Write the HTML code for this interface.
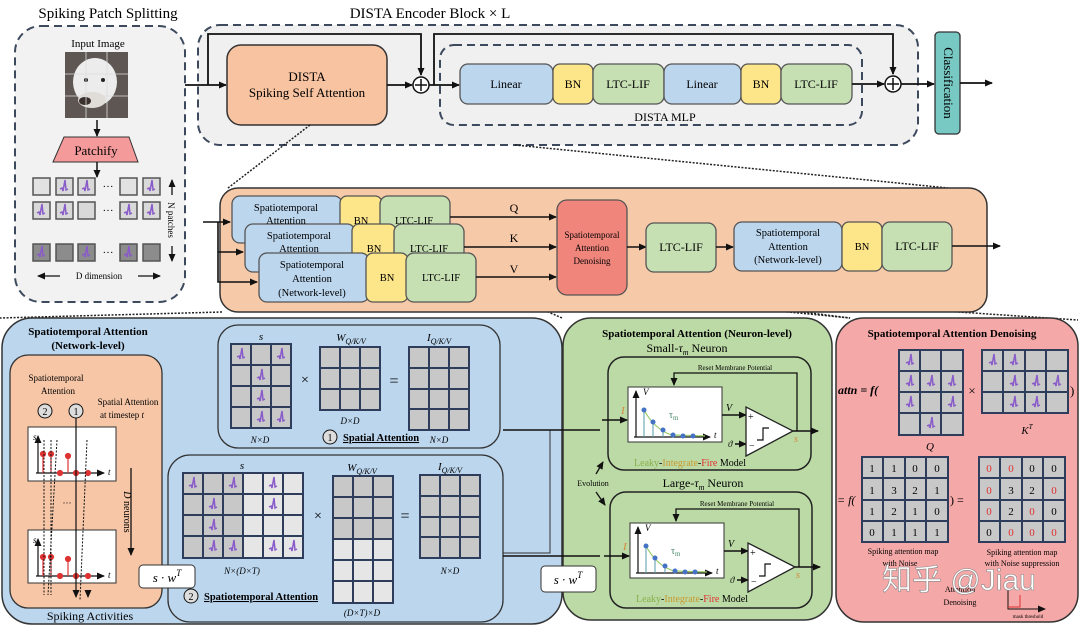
<!DOCTYPE html>
<html><head><meta charset="utf-8"><style>
html,body{margin:0;padding:0;background:#fff;width:1080px;height:626px;overflow:hidden}
svg{display:block;font-family:"Liberation Serif","Noto Serif CJK SC",serif}
</style></head><body>
<svg width="1080" height="626" viewBox="0 0 1080 626" xmlns="http://www.w3.org/2000/svg">
<defs>
<marker id="a" markerWidth="8" markerHeight="8" refX="7" refY="4" orient="auto" markerUnits="userSpaceOnUse"><path d="M0,0.5 L8,4 L0,7.5z" fill="#111"/></marker>
<symbol id="sp" overflow="visible"><path d="M-4,3 L-2,2 L-1,5 L1,-6 L2,4 L4,3" fill="none" stroke="#8a5cc9" stroke-width="1.5"/></symbol>
</defs>

<!-- ===== TOP ===== -->
<text x="108" y="18" font-size="15" text-anchor="middle">Spiking Patch Splitting</text>
<text x="430" y="18" font-size="15" text-anchor="middle">DISTA Encoder Block × L</text>
<rect x="15" y="26" width="170" height="276" rx="26" fill="#f2f2f2" stroke="#3d4a5e" stroke-width="2" stroke-dasharray="8,5"/>
<text x="98" y="47" font-size="11" text-anchor="middle">Input Image</text>
<rect x="65" y="52" width="63" height="66" fill="#5e5652"/>
<ellipse cx="95" cy="82" rx="22" ry="24" fill="#ececec"/>
<ellipse cx="92" cy="100" rx="14" ry="8" fill="#e0dcd8"/>
<ellipse cx="85" cy="101" rx="6" ry="4" fill="#3a302c"/>
<circle cx="86" cy="80" r="2" fill="#222"/><circle cx="103" cy="80" r="2" fill="#222"/>
<path d="M86,52V118M107,52V118M65,74H128M65,96H128" stroke="#ddd" stroke-width="0.8"/>
<line x1="97" y1="120" x2="97" y2="136" stroke="#111" stroke-width="1.5" marker-end="url(#a)"/>
<path d="M64,137 L129,137 L138,162 L53,162z" fill="#f49a9a" stroke="#333"/>
<text x="96" y="155" font-size="13" text-anchor="middle">Patchify</text>
<line x1="97" y1="162" x2="97" y2="177" stroke="#111" stroke-width="1.5" marker-end="url(#a)"/>
<g stroke="#555" stroke-width="1.5">
<rect x="33" y="178" width="17" height="17" fill="#e2e2e2"/><rect x="56" y="178" width="17" height="17" fill="#d9d9d9"/><rect x="78" y="178" width="17" height="17" fill="#d9d9d9"/><rect x="120" y="178" width="17" height="17" fill="#e2e2e2"/><rect x="143" y="178" width="17" height="17" fill="#d9d9d9"/>
<rect x="33" y="202" width="17" height="17" fill="#d9d9d9"/><rect x="56" y="202" width="17" height="17" fill="#d9d9d9"/><rect x="78" y="202" width="17" height="17" fill="#d9d9d9"/><rect x="120" y="202" width="17" height="17" fill="#d9d9d9"/><rect x="143" y="202" width="17" height="17" fill="#d9d9d9"/>
<rect x="33" y="244" width="17" height="17" fill="#8c8c8c"/><rect x="56" y="244" width="17" height="17" fill="#8c8c8c"/><rect x="78" y="244" width="17" height="17" fill="#8c8c8c"/><rect x="120" y="244" width="17" height="17" fill="#8c8c8c"/><rect x="143" y="244" width="17" height="17" fill="#8c8c8c"/>
</g>
<use href="#sp" x="64" y="186"/><use href="#sp" x="86" y="186"/><use href="#sp" x="151" y="186"/>
<use href="#sp" x="41" y="210"/><use href="#sp" x="64" y="210"/><use href="#sp" x="128" y="210"/><use href="#sp" x="151" y="210"/>
<use href="#sp" x="41" y="252"/><use href="#sp" x="86" y="252"/><use href="#sp" x="128" y="252"/>
<text x="108" y="190" font-size="11" text-anchor="middle">···</text><text x="108" y="214" font-size="11" text-anchor="middle">···</text><text x="108" y="256" font-size="11" text-anchor="middle">···</text>
<line x1="172" y1="195" x2="172" y2="180" stroke="#111" stroke-width="1.3" marker-end="url(#a)"/>
<line x1="172" y1="246" x2="172" y2="261" stroke="#111" stroke-width="1.3" marker-end="url(#a)"/>
<text transform="translate(168,220) rotate(90)" font-size="9" text-anchor="middle">N patches</text>
<line x1="60" y1="276" x2="38" y2="276" stroke="#111" stroke-width="1.3" marker-end="url(#a)"/>
<line x1="138" y1="276" x2="160" y2="276" stroke="#111" stroke-width="1.3" marker-end="url(#a)"/>
<text x="99" y="279" font-size="9" text-anchor="middle">D dimension</text>

<rect x="198" y="25" width="720" height="120" rx="22" fill="#f0f0f0" stroke="#3d4a5e" stroke-width="2" stroke-dasharray="8,5"/>
<rect x="440" y="45" width="422" height="80" rx="14" fill="none" stroke="#3d4a5e" stroke-width="2" stroke-dasharray="8,5"/>
<line x1="185" y1="85" x2="226" y2="85" stroke="#111" stroke-width="1.8" marker-end="url(#a)"/>
<polyline points="208,85 208,34 421,34 421,75" fill="none" stroke="#111" stroke-width="1.8" marker-end="url(#a)"/>
<rect x="227" y="45" width="160" height="80" rx="14" fill="#f7c3a0" stroke="#333" stroke-width="1.5"/>
<text x="307" y="81" font-size="13" text-anchor="middle">DISTA</text>
<text x="307" y="97" font-size="13" text-anchor="middle">Spiking Self Attention</text>
<line x1="387" y1="85" x2="412" y2="85" stroke="#111" stroke-width="1.8" marker-end="url(#a)"/>
<circle cx="421" cy="85" r="8" fill="#fff" stroke="#111" stroke-width="1.5"/><path d="M415,85H427M421,79V91" stroke="#111" stroke-width="1.5"/>
<line x1="429" y1="85" x2="459" y2="85" stroke="#111" stroke-width="1.8" marker-end="url(#a)"/>
<polyline points="434,85 434,34 893,34 893,74" fill="none" stroke="#111" stroke-width="1.8" marker-end="url(#a)"/>
<g stroke="#555" stroke-width="1.3">
<rect x="460" y="64" width="93" height="40" rx="8" fill="#bcd6ee"/>
<rect x="553" y="64" width="40" height="40" rx="7" fill="#fde68a"/>
<rect x="593" y="64" width="71" height="40" rx="8" fill="#c6e0b4"/>
<rect x="664" y="64" width="77" height="40" rx="8" fill="#bcd6ee"/>
<rect x="741" y="64" width="40" height="40" rx="7" fill="#fde68a"/>
<rect x="781" y="64" width="71" height="40" rx="8" fill="#c6e0b4"/>
</g>
<g font-size="12" text-anchor="middle"><text x="506" y="88">Linear</text><text x="573" y="88">BN</text><text x="628" y="88">LTC-LIF</text><text x="702" y="88">Linear</text><text x="761" y="88">BN</text><text x="816" y="88">LTC-LIF</text></g>
<text x="665" y="121" font-size="12" text-anchor="middle">DISTA MLP</text>
<line x1="852" y1="84" x2="884" y2="84" stroke="#111" stroke-width="1.8" marker-end="url(#a)"/>
<circle cx="893" cy="84" r="8" fill="#fff" stroke="#111" stroke-width="1.5"/><path d="M887,84H899M893,78V90" stroke="#111" stroke-width="1.5"/>
<line x1="901" y1="84" x2="934" y2="84" stroke="#111" stroke-width="1.8" marker-end="url(#a)"/>
<rect x="935" y="32" width="25" height="102" rx="4" fill="#78c8c4" stroke="#333" stroke-width="1.3"/>
<text transform="translate(944,83) rotate(90)" font-size="13" text-anchor="middle">Classification</text>
<line x1="960" y1="83" x2="992" y2="83" stroke="#111" stroke-width="1.8" marker-end="url(#a)"/>

<!-- dotted zoom lines -->
<g stroke="#222" stroke-width="1.5" stroke-dasharray="2,1.5" fill="none">
<line x1="310" y1="125" x2="228" y2="188"/><line x1="515" y1="145" x2="948" y2="188"/>
<line x1="222" y1="312" x2="0" y2="318"/><line x1="480" y1="282" x2="562" y2="318"/>
<line x1="480" y1="282" x2="850" y2="318"/><line x1="630" y1="290" x2="850" y2="318"/>
<line x1="630" y1="290" x2="1078" y2="320"/>
</g>

<!-- middle -->
<rect x="220" y="188" width="767" height="124" rx="18" fill="#f6c9a8" stroke="#333" stroke-width="1.5"/>
<line x1="203" y1="222" x2="230" y2="222" stroke="#111" stroke-width="1.6" marker-end="url(#a)"/>
<polyline points="218,222 218,282 257,282" fill="none" stroke="#111" stroke-width="1.6" marker-end="url(#a)"/>
<line x1="218" y1="252" x2="243" y2="252" stroke="#111" stroke-width="1.6" marker-end="url(#a)"/>
<g stroke="#555" stroke-width="1.3">
<rect x="232" y="196" width="110" height="47" rx="8" fill="#bcd6ee"/><rect x="340" y="196" width="42" height="47" rx="7" fill="#fde68a"/><rect x="380" y="196" width="70" height="47" rx="8" fill="#c6e0b4"/>
<rect x="245" y="224" width="110" height="48" rx="8" fill="#bcd6ee"/><rect x="352" y="224" width="44" height="48" rx="7" fill="#fde68a"/><rect x="394" y="224" width="70" height="48" rx="8" fill="#c6e0b4"/>
<rect x="259" y="253" width="110" height="49" rx="8" fill="#bcd6ee"/><rect x="366" y="253" width="42" height="49" rx="7" fill="#fde68a"/><rect x="406" y="253" width="70" height="49" rx="8" fill="#c6e0b4"/>
</g>
<g font-size="10.5" text-anchor="middle">
<text x="286" y="211">Spatiotemporal</text><text x="286" y="224">Attention</text><text x="361" y="224">BN</text><text x="414" y="224">LTC-LIF</text>
<text x="299" y="239">Spatiotemporal</text><text x="299" y="252">Attention</text><text x="374" y="252">BN</text><text x="429" y="252">LTC-LIF</text>
<text x="312" y="268">Spatiotemporal</text><text x="312" y="282">Attention</text><text x="312" y="296">(Network-level)</text><text x="387" y="281">BN</text><text x="441" y="281">LTC-LIF</text>
</g>
<line x1="450" y1="217" x2="556" y2="217" stroke="#111" stroke-width="1.6" marker-end="url(#a)"/>
<line x1="464" y1="247" x2="556" y2="247" stroke="#111" stroke-width="1.6" marker-end="url(#a)"/>
<line x1="476" y1="277" x2="556" y2="277" stroke="#111" stroke-width="1.6" marker-end="url(#a)"/>
<g font-size="12" text-anchor="middle"><text x="514" y="212">Q</text><text x="514" y="242">K</text><text x="514" y="273">V</text></g>
<rect x="557" y="200" width="70" height="95" rx="10" fill="#f0857c" stroke="#555" stroke-width="1.3"/>
<g font-size="9" text-anchor="middle"><text x="592" y="238">Spatiotemporal</text><text x="592" y="251">Attention</text><text x="592" y="264">Denoising</text></g>
<line x1="627" y1="247" x2="646" y2="247" stroke="#111" stroke-width="1.6" marker-end="url(#a)"/>
<rect x="646" y="223" width="70" height="49" rx="8" fill="#c6e0b4" stroke="#555" stroke-width="1.3"/>
<text x="681" y="251" font-size="12" text-anchor="middle">LTC-LIF</text>
<line x1="716" y1="247" x2="733" y2="247" stroke="#111" stroke-width="1.6" marker-end="url(#a)"/>
<g stroke="#555" stroke-width="1.3"><rect x="734" y="222" width="108" height="49" rx="8" fill="#bcd6ee"/><rect x="842" y="222" width="40" height="49" rx="7" fill="#fde68a"/><rect x="882" y="222" width="70" height="49" rx="8" fill="#c6e0b4"/></g>
<g font-size="10.5" text-anchor="middle"><text x="788" y="236">Spatiotemporal</text><text x="788" y="250">Attention</text><text x="788" y="263">(Network-level)</text><text x="862" y="250">BN</text></g>
<text x="917" y="250" font-size="12" text-anchor="middle">LTC-LIF</text>
<line x1="952" y1="246" x2="1000" y2="246" stroke="#111" stroke-width="1.6" marker-end="url(#a)"/>

<!-- ===== BOTTOM BLUE ===== -->
<rect x="2" y="318" width="560" height="306" rx="30" fill="#bcd6ee" stroke="#333" stroke-width="1.5"/>
<text x="88" y="335" font-size="11" font-weight="bold" text-anchor="middle">Spatiotemporal Attention</text>
<text x="88" y="349" font-size="11" font-weight="bold" text-anchor="middle">(Network-level)</text>
<rect x="10" y="355" width="152" height="253" rx="18" fill="#f6c6a6" stroke="#333" stroke-width="1.3"/>
<text x="56" y="381" font-size="9" text-anchor="middle">Spatiotemporal</text><text x="58" y="394" font-size="9" text-anchor="middle">Attention</text>
<text x="128" y="405" font-size="9" text-anchor="middle">Spatial Attention</text><text x="122" y="418" font-size="9" text-anchor="middle">at timestep <tspan font-style="italic">t</tspan></text>
<circle cx="45" cy="411" r="7" fill="#ddd" stroke="#111"/><text x="45" y="415" font-size="10" text-anchor="middle">2</text>
<circle cx="76" cy="411" r="7" fill="#ddd" stroke="#111"/><text x="76" y="415" font-size="10" text-anchor="middle">1</text>
<rect x="28" y="427" width="88" height="54" fill="#fff" stroke="#333"/>
<rect x="28" y="530" width="88" height="53" fill="#fff" stroke="#333"/>
<g stroke="#111" stroke-width="1.2">
<line x1="38" y1="473" x2="38" y2="436" marker-end="url(#a)"/><line x1="36" y1="473" x2="104" y2="473" marker-end="url(#a)"/>
<line x1="38" y1="576" x2="38" y2="539" marker-end="url(#a)"/><line x1="36" y1="576" x2="104" y2="576" marker-end="url(#a)"/>
</g>
<text x="33" y="440" font-size="9" font-style="italic">s</text><text x="108" y="475" font-size="9" font-style="italic">t</text>
<text x="33" y="543" font-size="9" font-style="italic">s</text><text x="108" y="578" font-size="9" font-style="italic">t</text>
<g stroke="#d33" stroke-width="1.2" fill="#d33">
<line x1="43" y1="473" x2="43" y2="454"/><circle cx="43" cy="454" r="2.5"/><line x1="51" y1="473" x2="51" y2="454"/><circle cx="51" cy="454" r="2.5"/><line x1="68" y1="473" x2="68" y2="456"/><circle cx="68" cy="456" r="2.5"/><circle cx="60" cy="473" r="2.5"/><circle cx="76" cy="473" r="2.5"/><circle cx="88" cy="473" r="2.5"/>
<line x1="43" y1="576" x2="43" y2="557"/><circle cx="43" cy="557" r="2.5"/><line x1="51" y1="576" x2="51" y2="557"/><circle cx="51" cy="557" r="2.5"/><line x1="68" y1="576" x2="68" y2="559"/><circle cx="68" cy="559" r="2.5"/><circle cx="60" cy="576" r="2.5"/><circle cx="76" cy="576" r="2.5"/><circle cx="88" cy="576" r="2.5"/>
</g>
<g stroke="#111" stroke-width="1" stroke-dasharray="2,1.5"><line x1="44" y1="440" x2="44" y2="595"/><line x1="51" y1="440" x2="51" y2="595"/><line x1="57" y1="440" x2="48" y2="595"/><line x1="87" y1="440" x2="80" y2="600"/></g>
<line x1="76" y1="418" x2="76" y2="597" stroke="#111" stroke-width="1.2" marker-end="url(#a)"/>
<line x1="88" y1="590" x2="88" y2="597" stroke="#111" stroke-width="1.2" marker-end="url(#a)"/>
<text x="67" y="506" font-size="9" text-anchor="middle">···</text>
<line x1="131" y1="468" x2="131" y2="555" stroke="#111" stroke-width="1.3" marker-end="url(#a)"/>
<text transform="translate(124,512) rotate(90)" font-size="10" text-anchor="middle"><tspan font-style="italic">D</tspan> neurons</text>
<text x="90" y="620" font-size="12" text-anchor="middle">Spiking Activities</text>

<!-- spatial attention -->
<rect x="218" y="325" width="282" height="123" rx="20" fill="#bcd6ee" stroke="#333" stroke-width="1.3"/>
<g stroke="#2e3d5c" stroke-width="2" fill="none">
<rect x="231" y="344" width="60" height="84" fill="#c8c8c8"/><path d="M251,344V428M271,344V428M231,365H291M231,386H291M231,407H291"/>
<rect x="320" y="347" width="60" height="63" fill="#c8c8c8"/><path d="M340,347V410M360,347V410M320,368H380M320,389H380"/>
<rect x="409" y="347" width="60" height="83" fill="#c8c8c8"/><path d="M429,347V430M449,347V430M409,368H469M409,389H469M409,409H469"/>
</g>
<use href="#sp" x="241" y="354"/><use href="#sp" x="281" y="354"/><use href="#sp" x="261" y="375"/><use href="#sp" x="261" y="396"/><use href="#sp" x="261" y="417"/><use href="#sp" x="281" y="417"/>
<g font-size="11" font-style="italic" text-anchor="middle"><text x="261" y="340">s</text><text x="351" y="341">W<tspan font-size="8" dy="3">Q/K/V</tspan></text><text x="439" y="341">I<tspan font-size="8" dy="3">Q/K/V</tspan></text>
<text x="260" y="443" font-size="9">N×D</text><text x="350" y="424" font-size="9">D×D</text><text x="439" y="443" font-size="9">N×D</text></g>
<text x="305" y="384" font-size="14" text-anchor="middle">×</text><text x="394" y="386" font-size="16" text-anchor="middle">=</text>
<circle cx="330" cy="437" r="7" fill="#ddd" stroke="#111"/><text x="330" y="441" font-size="10" text-anchor="middle">1</text>
<text x="343" y="441" font-size="10.5" font-weight="bold" text-decoration="underline">Spatial Attention</text>

<!-- spatiotemporal attention -->
<rect x="168" y="455" width="335" height="167" rx="22" fill="#bcd6ee" stroke="#333" stroke-width="1.3"/>
<g stroke="#2e3d5c" stroke-width="2" fill="none">
<rect x="183" y="473" width="60" height="85" fill="#c8c8c8"/><rect x="243" y="473" width="60" height="85" fill="#e6e6e6"/><rect x="183" y="473" width="120" height="85"/>
<path d="M203,473V558M223,473V558M243,473V558M263,473V558M283,473V558M183,494H303M183,515H303M183,536H303"/>
<rect x="333" y="476" width="60" height="63" fill="#c8c8c8"/><rect x="333" y="539" width="60" height="64" fill="#e6e6e6"/><rect x="333" y="476" width="60" height="127"/>
<path d="M353,476V603M373,476V603M333,497H393M333,518H393M333,539H393M333,560H393M333,581H393"/>
<rect x="420" y="475" width="60" height="83" fill="#c8c8c8"/><path d="M440,475V558M460,475V558M420,496H480M420,517H480M420,537H480"/>
</g>
<use href="#sp" x="193" y="483"/><use href="#sp" x="233" y="483"/><use href="#sp" x="273" y="483"/><use href="#sp" x="213" y="504"/><use href="#sp" x="273" y="504"/><use href="#sp" x="213" y="525"/><use href="#sp" x="213" y="546"/><use href="#sp" x="233" y="546"/><use href="#sp" x="273" y="546"/><use href="#sp" x="293" y="546"/>
<g font-size="11" font-style="italic" text-anchor="middle"><text x="242" y="469">s</text><text x="362" y="471">W<tspan font-size="8" dy="3">Q/K/V</tspan></text><text x="450" y="470">I<tspan font-size="8" dy="3">Q/K/V</tspan></text>
<text x="242" y="574" font-size="9">N×(D×T)</text><text x="362" y="616" font-size="9">(D×T)×D</text><text x="450" y="574" font-size="9">N×D</text></g>
<text x="318" y="520" font-size="14" text-anchor="middle">×</text><text x="405" y="521" font-size="16" text-anchor="middle">=</text>
<circle cx="191" cy="596" r="7" fill="#ddd" stroke="#111"/><text x="191" y="600" font-size="10" text-anchor="middle">2</text>
<text x="204" y="600" font-size="10.5" font-weight="bold" text-decoration="underline">Spatiotemporal Attention</text>
<path d="M503,553H550V430M550,553" fill="none" stroke="#333" stroke-width="1"/>
<rect x="139" y="565" width="56" height="23" rx="4" fill="#fff" stroke="#333"/>
<text x="167" y="582" font-size="13" font-style="italic" text-anchor="middle">s · w<tspan font-size="9" dy="-6">T</tspan></text>

<!-- ===== GREEN ===== -->
<rect x="563" y="318" width="269" height="302" rx="28" fill="#bcdaa6" stroke="#333" stroke-width="1.5"/>
<text x="697" y="337" font-size="11" font-weight="bold" text-anchor="middle">Spatiotemporal Attention (Neuron-level)</text>
<text x="687" y="352" font-size="12" text-anchor="middle">Small-<tspan font-style="italic">τ</tspan><tspan font-size="8" dy="3" font-style="italic">m</tspan><tspan dy="-3"> Neuron</tspan></text>
<text x="703" y="487" font-size="12" text-anchor="middle">Large-<tspan font-style="italic">τ</tspan><tspan font-size="8" dy="3" font-style="italic">m</tspan><tspan dy="-3"> Neuron</tspan></text>
<rect x="608" y="357" width="203" height="113" rx="16" fill="none" stroke="#222" stroke-width="1.5"/>
<rect x="610" y="492" width="202" height="116" rx="16" fill="none" stroke="#222" stroke-width="1.5"/>
<g id="neur">
<rect x="628" y="387" width="94" height="55" fill="#fff" stroke="#333"/>
<line x1="636" y1="437" x2="636" y2="391" stroke="#111" stroke-width="1.2" marker-end="url(#a)"/>
<line x1="634" y1="437" x2="710" y2="437" stroke="#111" stroke-width="1.2" marker-end="url(#a)"/>
<path d="M644,410 Q655,430 672,435 L705,436" fill="none" stroke="#9c6" stroke-width="1.2"/>
<g stroke="#59a" stroke-width="1"><line x1="644" y1="410" x2="644" y2="437"/><line x1="653" y1="422" x2="653" y2="437"/><line x1="663" y1="430" x2="663" y2="437"/></g>
<g fill="#4472c4"><circle cx="644" cy="410" r="2.5"/><circle cx="653" cy="422" r="2.5"/><circle cx="663" cy="430" r="2.5"/><circle cx="673" cy="435" r="2.5"/><circle cx="683" cy="436" r="2.5"/><circle cx="693" cy="436" r="2.5"/></g>
<text x="643" y="395" font-size="9" font-style="italic">V</text><text x="714" y="438" font-size="9" font-style="italic">t</text>
<text x="669" y="418" font-size="10" fill="#4a8a6a">τ<tspan font-size="7" dy="2">m</tspan></text>
<line x1="602" y1="420" x2="627" y2="420" stroke="#111" stroke-width="1.5" marker-end="url(#a)"/>
<text x="621" y="414" font-size="11" font-style="italic" fill="#d4873a">I</text>
<line x1="722" y1="415" x2="746" y2="415" stroke="#111" stroke-width="1.5" marker-end="url(#a)"/>
<text x="726" y="411" font-size="10" font-style="italic">V</text>
<text x="728" y="447" font-size="9" font-style="italic">ϑ</text>
<line x1="735" y1="444" x2="746" y2="444" stroke="#111" stroke-width="1.5" marker-end="url(#a)"/>
<path d="M746,407 L746,456 L793,431z" fill="#fff" stroke="#222" stroke-width="1.3"/>
<text x="748" y="420" font-size="10">+</text><text x="749" y="449" font-size="10">−</text>
<path d="M757,440 H763 V428 H769" fill="none" stroke="#111" stroke-width="1.2"/>
<line x1="793" y1="431" x2="818" y2="431" stroke="#111" stroke-width="1.5" marker-end="url(#a)"/>
<text x="794" y="442" font-size="10" font-style="italic" fill="#d4873a">s</text>
<polyline points="797,431 797,373 674,373 674,385" fill="none" stroke="#111" stroke-width="1.3" marker-end="url(#a)"/>
<text x="735" y="370" font-size="7" text-anchor="middle">Reset Membrane Potential</text>
<text x="690" y="466" font-size="10" text-anchor="middle"><tspan fill="#88b04b">Leaky</tspan>-<tspan fill="#c89a30">Integrate</tspan>-<tspan fill="#e03030">Fire</tspan> Model</text>
</g>
<use href="#neur" x="2" y="136"/>
<path d="M503,430 H600 M503,556 H600" stroke="#111" stroke-width="1.5" fill="none"/>
<text x="593" y="486" font-size="8" text-anchor="middle">Evolution</text>
<line x1="596" y1="474" x2="603" y2="462" stroke="#111" stroke-width="1.3" marker-end="url(#a)"/>
<line x1="596" y1="492" x2="605" y2="505" stroke="#111" stroke-width="1.3" marker-end="url(#a)"/>
<rect x="541" y="566" width="55" height="26" rx="4" fill="#fff" stroke="#333"/>
<text x="568" y="584" font-size="13" font-style="italic" text-anchor="middle">s · w<tspan font-size="9" dy="-6">T</tspan></text>

<!-- ===== PINK ===== -->
<rect x="836" y="318" width="242" height="304" rx="28" fill="#f5a8a8" stroke="#333" stroke-width="1.5"/>
<text x="952" y="337" font-size="11" font-weight="bold" text-anchor="middle">Spatiotemporal Attention Denoising</text>
<text x="838" y="394" font-size="12" font-style="italic" font-weight="bold">attn = f(</text>
<g stroke="#2e3d5c" stroke-width="2" fill="none">
<rect x="899" y="350" width="64" height="85" fill="#c8c8c8"/><path d="M920,350V435M941,350V435M899,371H963M899,392H963M899,413H963"/>
<rect x="982" y="350" width="86" height="63" fill="#c8c8c8"/><path d="M1003,350V413M1025,350V413M1046,350V413M982,371H1068M982,392H1068"/>
<rect x="862" y="457" width="86" height="85" fill="#c8c8c8"/><path d="M883,457V542M905,457V542M926,457V542M862,478H948M862,500H948M862,521H948"/>
<rect x="979" y="457" width="86" height="85" fill="#c8c8c8"/><path d="M1000,457V542M1022,457V542M1043,457V542M979,478H1065M979,500H1065M979,521H1065"/>
</g>
<use href="#sp" x="910" y="360"/><use href="#sp" x="910" y="381"/><use href="#sp" x="931" y="381"/><use href="#sp" x="952" y="381"/><use href="#sp" x="910" y="402"/><use href="#sp" x="952" y="402"/><use href="#sp" x="931" y="423"/>
<use href="#sp" x="993" y="360"/><use href="#sp" x="1014" y="360"/><use href="#sp" x="1014" y="381"/><use href="#sp" x="1036" y="381"/><use href="#sp" x="1057" y="381"/><use href="#sp" x="1014" y="402"/><use href="#sp" x="1036" y="402"/>
<text x="972" y="395" font-size="13" text-anchor="middle">×</text><text x="1070" y="395" font-size="13">)</text>
<text x="930" y="450" font-size="11" font-style="italic" text-anchor="middle">Q</text><text x="1027" y="434" font-size="11" font-style="italic" text-anchor="middle">K<tspan font-size="7" dy="-5">T</tspan></text>
<text x="837" y="504" font-size="12" font-style="italic">= f(</text><text x="950" y="504" font-size="12">) =</text>
<g font-size="11" text-anchor="middle">
<text x="872" y="472">1</text><text x="894" y="472">1</text><text x="915" y="472">0</text><text x="937" y="472">0</text>
<text x="872" y="494">1</text><text x="894" y="494">3</text><text x="915" y="494">2</text><text x="937" y="494">1</text>
<text x="872" y="515">1</text><text x="894" y="515">2</text><text x="915" y="515">1</text><text x="937" y="515">0</text>
<text x="872" y="536">0</text><text x="894" y="536">1</text><text x="915" y="536">1</text><text x="937" y="536">1</text>
<text x="989" y="472" fill="#e03030">0</text><text x="1011" y="472" fill="#e03030">0</text><text x="1032" y="472">0</text><text x="1054" y="472">0</text>
<text x="989" y="494" fill="#e03030">0</text><text x="1011" y="494">3</text><text x="1032" y="494">2</text><text x="1054" y="494" fill="#e03030">0</text>
<text x="989" y="515" fill="#e03030">0</text><text x="1011" y="515">2</text><text x="1032" y="515" fill="#e03030">0</text><text x="1054" y="515">0</text>
<text x="989" y="536">0</text><text x="1011" y="536" fill="#e03030">0</text><text x="1032" y="536" fill="#e03030">0</text><text x="1054" y="536" fill="#e03030">0</text>
</g>
<g font-size="8" text-anchor="middle"><text x="903" y="554">Spiking attention map</text><text x="900" y="566">with Noise</text><text x="1022" y="555">Spiking attention map</text><text x="1022" y="566">with Noise suppression</text>
<text x="960" y="592">Attention</text><text x="960" y="605">Denoising</text></g>
<path d="M1008,588 V609 H1045" fill="none" stroke="#111" stroke-width="1" marker-end="url(#a)"/>
<path d="M1008,607 H1020 V595" fill="none" stroke="#e03030" stroke-width="1"/>
<text x="1028" y="618" font-size="5" text-anchor="middle">mask threshold</text>
<text x="882" y="590" font-size="30" fill="#fff" stroke="#888" stroke-width="0.6" font-family="'Liberation Sans','Noto Sans CJK SC',sans-serif">知乎 @Jiau</text>
</svg>
</body></html>
